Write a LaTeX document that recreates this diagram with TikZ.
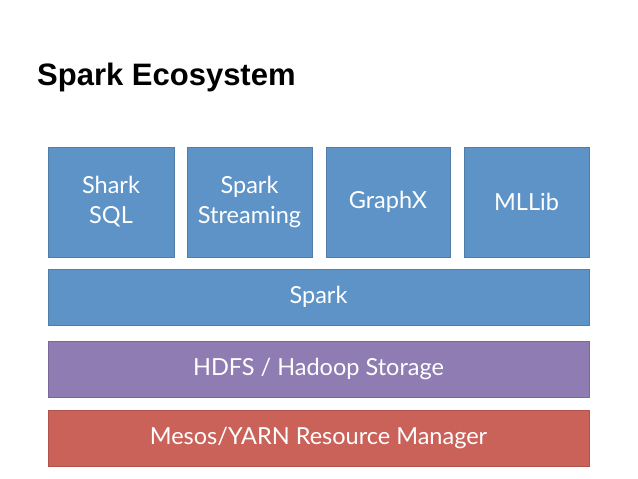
\documentclass[tikz,border=0pt]{standalone}
\usepackage{fontspec}
\setmainfont{Lato}
\newfontfamily\titlefont{Liberation Sans}
\definecolor{cblue}{HTML}{5E93C7}
\definecolor{cpurple}{HTML}{8F7CB3}
\definecolor{cred}{HTML}{CB625A}
\begin{document}
\begin{tikzpicture}[x=1pt,y=-1pt,
  box/.style={draw=#1!85!black,fill=#1,line width=0.6pt,text=white,font=\fontsize{23.5}{30}\selectfont,align=center,inner sep=0pt}]
\useasboundingbox (0,0) rectangle (638,479);
\node[anchor=base west,font=\titlefont\bfseries\fontsize{31}{34}\selectfont,inner sep=0pt] (title) at (37,85) {Spark Ecosystem};
\node[box=cblue,minimum width=126,minimum height=110] (shark) at (111,202) {Shark\\SQL};
\node[box=cblue,minimum width=125,minimum height=110] (stream) at (249.5,202) {Spark\\Streaming};
\node[box=cblue,minimum width=124,minimum height=110] (graphx) at (388,202) {GraphX};
\node[box=cblue,minimum width=125,minimum height=110] (mllib) at (526.5,202) {MLLib};
\node[box=cblue,minimum width=541,minimum height=56] (spark) at (318.5,297) {Spark};
\node[box=cpurple,minimum width=541,minimum height=56] (hdfs) at (318.5,369) {HDFS / Hadoop Storage};
\node[box=cred,minimum width=541,minimum height=56] (mesos) at (318.5,438) {Mesos/YARN Resource Manager};
\end{tikzpicture}
\end{document}
